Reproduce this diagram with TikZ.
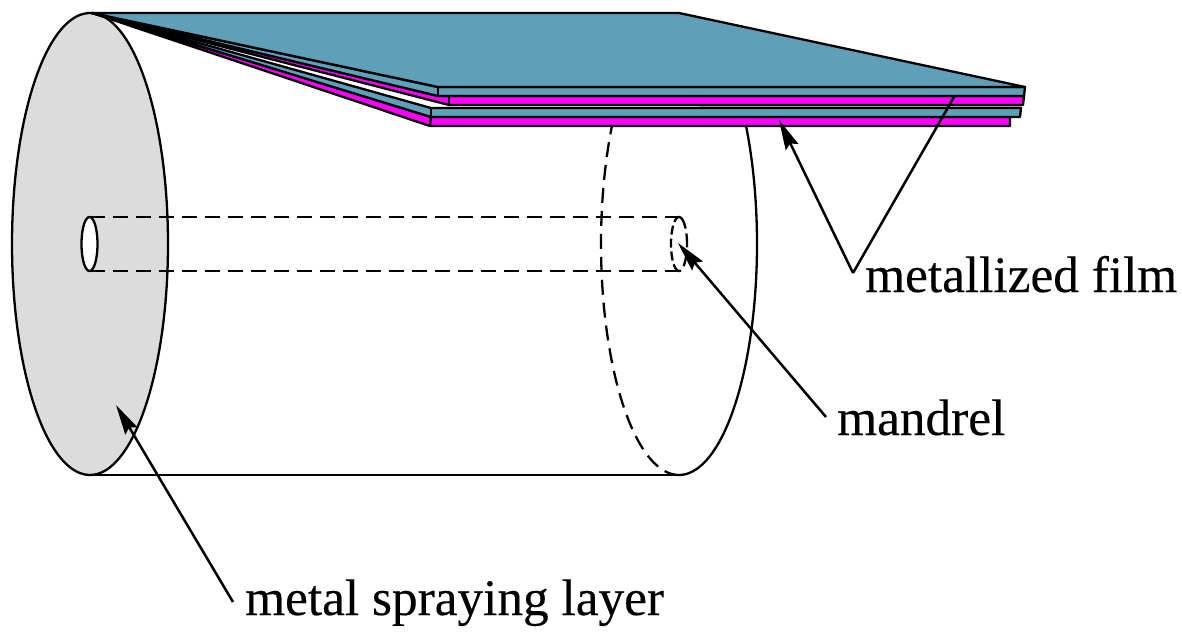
\documentclass[tikz,border=0pt]{standalone}
\usepackage{fontspec}
\setmainfont[FakeBold=0.25]{Liberation Serif}
\usetikzlibrary{arrows.meta}
\definecolor{filmteal}{HTML}{5F9FB8}
\definecolor{filmpink}{HTML}{FF00FF}
\definecolor{sprayfill}{HTML}{DCDCDC}
\tikzset{
  outline/.style={draw=black,line width=2.3pt,line join=round},
  hidden/.style={draw=black,line width=2.3pt,dash pattern=on 15pt off 8pt},
  leader/.style={draw=black,line width=2.5pt},
  pointer/.style={leader,-{Stealth[length=30pt,width=14pt,inset=4pt]}},
  lbl/.style={font=\fontsize{51.3pt}{53pt}\selectfont,inner sep=0pt,anchor=base west}
}
\begin{document}
\begin{tikzpicture}[x=1pt,y=-1pt]
\useasboundingbox (0,0) rectangle (1182,637);
% spray disc
\draw[outline,fill=sprayfill] plot[domain=0:360,samples=120,smooth cycle] ({90+78*cos(\x)},{244+231*sin(\x)});
% cylinder
\draw[outline] (90,475) -- (679,475);
\draw[outline] plot[domain=-31:90,samples=50,smooth] ({679+78*cos(\x)},{244+231*sin(\x)});
\draw[hidden] plot[domain=90:211,samples=50,smooth] ({679+78*cos(\x)},{244+231*sin(\x)});
% mandrel
\draw[outline,fill=white] plot[domain=0:360,samples=60,smooth cycle] ({89.5+8*cos(\x)},{244+27*sin(\x)});
\draw[hidden] (89.5,217) -- (680,217);
\draw[hidden] (89.5,271) -- (680,271);
\draw[hidden,dash pattern=on 14pt off 5pt] plot[domain=-90:90,samples=30,smooth] ({679+8*cos(\x)},{244+27*sin(\x)});
\draw[hidden,dash pattern=on 9pt off 4pt] plot[domain=90:270,samples=30,smooth] ({679+8*cos(\x)},{244+27*sin(\x)});
% film layers
\coordinate (apex) at (92,13);
\fill[white] (apex) -- (449,105) -- (1021,105) -- (1021,108) -- (431,108) -- cycle;
\fill[gray!45] (700,105.5) -- (1021,105.5) -- (1021,108) -- (700,108) -- cycle;
\draw[outline,fill=filmpink] (apex) -- (431,117) -- (1010,117) -- (1010,126) -- (430,126) -- cycle;
\draw[outline] (431,117) -- (430,126);
\draw[outline,fill=filmteal] (apex) -- (431,108) -- (1021,108) -- (1020,117) -- (431,117) -- cycle;
\draw[outline] (431,108) -- (431,117);
\draw[outline,fill=filmpink] (apex) -- (438,96) -- (1024,96) -- (1023,105) -- (449,105) -- cycle;
\draw[outline] (449,97) -- (449,105);
\draw[outline,fill=filmteal] (apex) -- (438,87) -- (1025,87) -- (1024,96) -- (438,96) -- cycle;
\draw[outline] (438,87) -- (438,96);
\draw[outline,fill=filmteal] (apex) -- (679,13) -- (1025,87) -- (438,87) -- cycle;
% labels
\node[lbl] (film) at (865,292) {metallized film};
\node[lbl] (mand) at (837,435) {mandrel};
\node[lbl] (spray) at (245,615) {metal spraying layer};
% leaders
\coordinate (vee) at (853,273);
\coordinate (filmA) at (954,97);
\coordinate (filmB) at (779,120);
\coordinate (mandT) at (826,417);
\coordinate (mandH) at (678,243);
\coordinate (sprayT) at (233,602);
\coordinate (sprayH) at (116,405);
\draw[leader,line join=miter] (filmA) -- (vee);
\draw[pointer] (vee) -- (filmB);
\draw[pointer] (mandT) -- (mandH);
\draw[pointer] (sprayT) -- (sprayH);
\end{tikzpicture}
\end{document}
